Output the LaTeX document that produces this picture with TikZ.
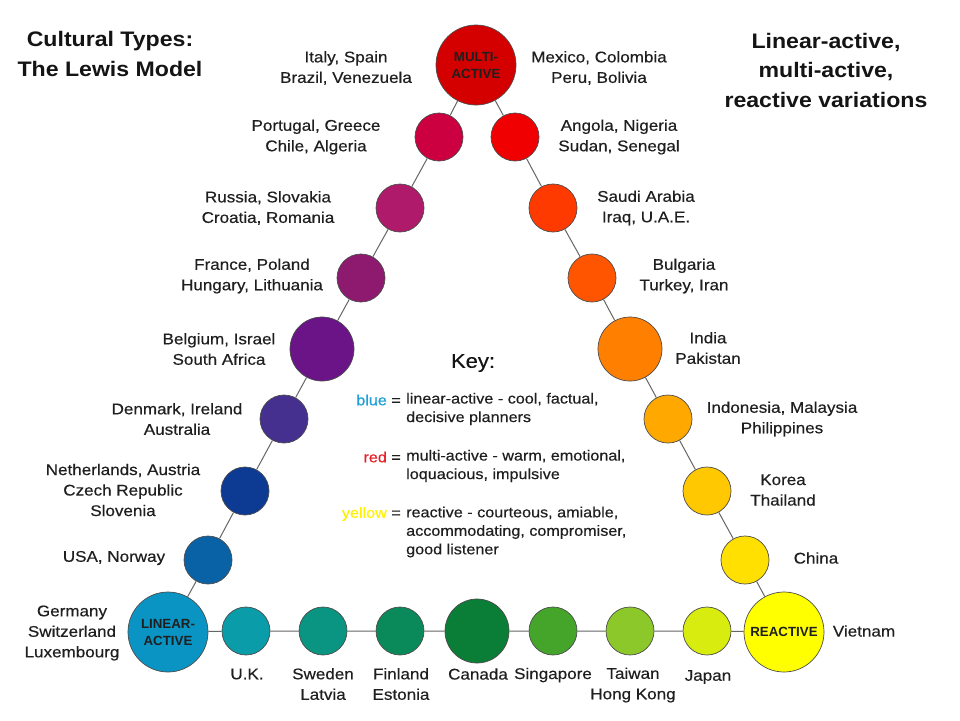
\documentclass[tikz,border=0pt]{standalone}
\usepackage{fontspec}
\setmainfont{Liberation Sans}[FakeStretch=1.1]
\newfontfamily\labfont{Liberation Sans}[FakeStretch=1.1,FakeBold=0.35]
\newfontfamily\circfont{Liberation Sans}
\definecolor{cMulti}{HTML}{D40000}
\definecolor{cPor}{HTML}{CC0040}
\definecolor{cRus}{HTML}{B01A6A}
\definecolor{cFra}{HTML}{8E1A70}
\definecolor{cBel}{HTML}{6A1488}
\definecolor{cDen}{HTML}{45308F}
\definecolor{cNet}{HTML}{0D3B94}
\definecolor{cUSA}{HTML}{0A62A6}
\definecolor{cLin}{HTML}{0A94C4}
\definecolor{cUK}{HTML}{0A9CA8}
\definecolor{cSwe}{HTML}{0A9482}
\definecolor{cFin}{HTML}{0A8A5A}
\definecolor{cCan}{HTML}{0A7E36}
\definecolor{cSin}{HTML}{44A52A}
\definecolor{cTai}{HTML}{8CC82A}
\definecolor{cJap}{HTML}{D8EC10}
\definecolor{cRea}{HTML}{FFFF00}
\definecolor{cChi}{HTML}{FFE000}
\definecolor{cKor}{HTML}{FFC800}
\definecolor{cIndo}{HTML}{FFA800}
\definecolor{cInd}{HTML}{FF8000}
\definecolor{cBul}{HTML}{FF5500}
\definecolor{cSau}{HTML}{FF3A00}
\definecolor{cAng}{HTML}{F00000}
\definecolor{kBlue}{HTML}{1BA1D8}
\definecolor{kRed}{HTML}{E8202A}
\definecolor{kYellow}{HTML}{FFF200}
\begin{document}
\begin{tikzpicture}[x=1pt,y=-1pt,
  dot/.style={circle,draw=black!70,line width=0.7pt,inner sep=0pt,minimum size=48pt},
  mid/.style={dot,minimum size=64pt},
  big/.style={dot,minimum size=80pt,font=\circfont\bfseries\fontsize{13.3}{17}\selectfont,align=center,text=black!88},
  lab/.style={align=center,inner sep=0pt,text=black!88,font=\labfont\fontsize{15.5}{20.5}\selectfont},
  link/.style={draw=black!60,line width=1pt},
  ttl/.style={align=center,inner sep=0pt,text=black!92,font=\bfseries\fontsize{21}{29.5}\selectfont},
  keytxt/.style={align=left,inner sep=0pt,anchor=west,text=black!88,font=\labfont\fontsize{14.7}{18.5}\selectfont},
  keyword/.style={inner sep=0pt,anchor=east,text=black!88,font=\labfont\fontsize{14.7}{18.5}\selectfont}]
\useasboundingbox (0,0) rectangle (960,720);
\fill[white] (0,0) rectangle (960,720);

% circles
\node[big,fill=cMulti] (multi) at (476,65) {MULTI-\\ACTIVE};
\node[dot,fill=cPor] (l1) at (439,137) {};
\node[dot,fill=cRus] (l2) at (400,208) {};
\node[dot,fill=cFra] (l3) at (361,278) {};
\node[mid,fill=cBel] (l4) at (322,349) {};
\node[dot,fill=cDen] (l5) at (284,419) {};
\node[dot,fill=cNet] (l6) at (245,491) {};
\node[dot,fill=cUSA] (l7) at (208,560) {};
\node[big,fill=cLin] (lin) at (168,632) {LINEAR-\\ACTIVE};
\node[dot,fill=cAng] (r1) at (515,137) {};
\node[dot,fill=cSau] (r2) at (553,208) {};
\node[dot,fill=cBul] (r3) at (592,278) {};
\node[mid,fill=cInd] (r4) at (630,349) {};
\node[dot,fill=cIndo] (r5) at (668,419) {};
\node[dot,fill=cKor] (r6) at (707,491) {};
\node[dot,fill=cChi] (r7) at (745,560) {};
\node[big,fill=cRea] (rea) at (784,632) {REACTIVE};
\node[dot,fill=cUK] (b1) at (246,631) {};
\node[dot,fill=cSwe] (b2) at (323,631) {};
\node[dot,fill=cFin] (b3) at (400,631) {};
\node[mid,fill=cCan] (b4) at (477,631) {};
\node[dot,fill=cSin] (b5) at (553,631) {};
\node[dot,fill=cTai] (b6) at (630,631) {};
\node[dot,fill=cJap] (b7) at (707,631) {};

% connectors
\draw[link] (multi) -- (l1) -- (l2) -- (l3) -- (l4) -- (l5) -- (l6) -- (l7) -- (lin);
\draw[link] (multi) -- (r1) -- (r2) -- (r3) -- (r4) -- (r5) -- (r6) -- (r7) -- (rea);
\draw[link] (lin) -- (b1) -- (b2) -- (b3) -- (b4) -- (b5) -- (b6) -- (b7) -- (rea);

% titles
\node[ttl] (t1) at (110,54) {Cultural Types:\\The Lewis Model};
\node[ttl] (t2) at (826,70) {Linear-active,\\multi-active,\\reactive variations};

% labels
\node[lab] (n0a) at (346,68) {Italy, Spain\\Brazil, Venezuela};
\node[lab] (n0b) at (599,68) {Mexico, Colombia\\Peru, Bolivia};
\node[lab] (n1) at (316,137) {Portugal, Greece\\Chile, Algeria};
\node[lab] (n2) at (268,208) {Russia, Slovakia\\Croatia, Romania};
\node[lab] (n3) at (252,276) {France, Poland\\Hungary, Lithuania};
\node[lab] (n4) at (219,349) {Belgium, Israel\\South Africa};
\node[lab] (n5) at (177,419) {Denmark, Ireland\\Australia};
\node[lab] (n6) at (123,490) {Netherlands, Austria\\Czech Republic\\Slovenia};
\node[lab] (n7) at (114,558) {USA, Norway};
\node[lab] (n8) at (72,633) {Germany\\Switzerland\\Luxembourg};
\node[lab] (m1) at (619,137) {Angola, Nigeria\\Sudan, Senegal};
\node[lab] (m2) at (646,208) {Saudi Arabia\\Iraq, U.A.E.};
\node[lab] (m3) at (684,276) {Bulgaria\\Turkey, Iran};
\node[lab] (m4) at (708,348) {India\\Pakistan};
\node[lab] (m5) at (782,419) {Indonesia, Malaysia\\Philippines};
\node[lab] (m6) at (783,490) {Korea\\Thailand};
\node[lab] (m7) at (816,558) {China};
\node[lab] (m8) at (864,631) {Vietnam};
\node[lab] (k1) at (247,674) {U.K.};
\node[lab] (k2) at (323,684) {Sweden\\Latvia};
\node[lab] (k3) at (401,684) {Finland\\Estonia};
\node[lab] (k4) at (478,674) {Canada};
\node[lab] (k5) at (553,675) {Singapore};
\node[lab] (k6) at (633,685) {Taiwan\\Hong Kong};
\node[lab] (k7) at (708,677) {Japan};

% key
\node[inner sep=0pt,text=black!92,font=\labfont\fontsize{20}{24}\selectfont] (key) at (473,363) {Key:};
\node[keyword] (kw1) at (401,400) {\textcolor{kBlue}{blue} =};
\node[keytxt] (kd1) at (406,409) {linear-active - cool, factual,\\decisive planners};
\node[keyword] (kw2) at (401,457) {\textcolor{kRed}{red} =};
\node[keytxt] (kd2) at (406,466) {multi-active - warm, emotional,\\loquacious, impulsive};
\node[keyword] (kw3) at (401,514) {\textcolor{kYellow}{yellow} =};
\node[keytxt] (kd3) at (406,532) {reactive - courteous, amiable,\\accommodating, compromiser,\\good listener};
\end{tikzpicture}
\end{document}
